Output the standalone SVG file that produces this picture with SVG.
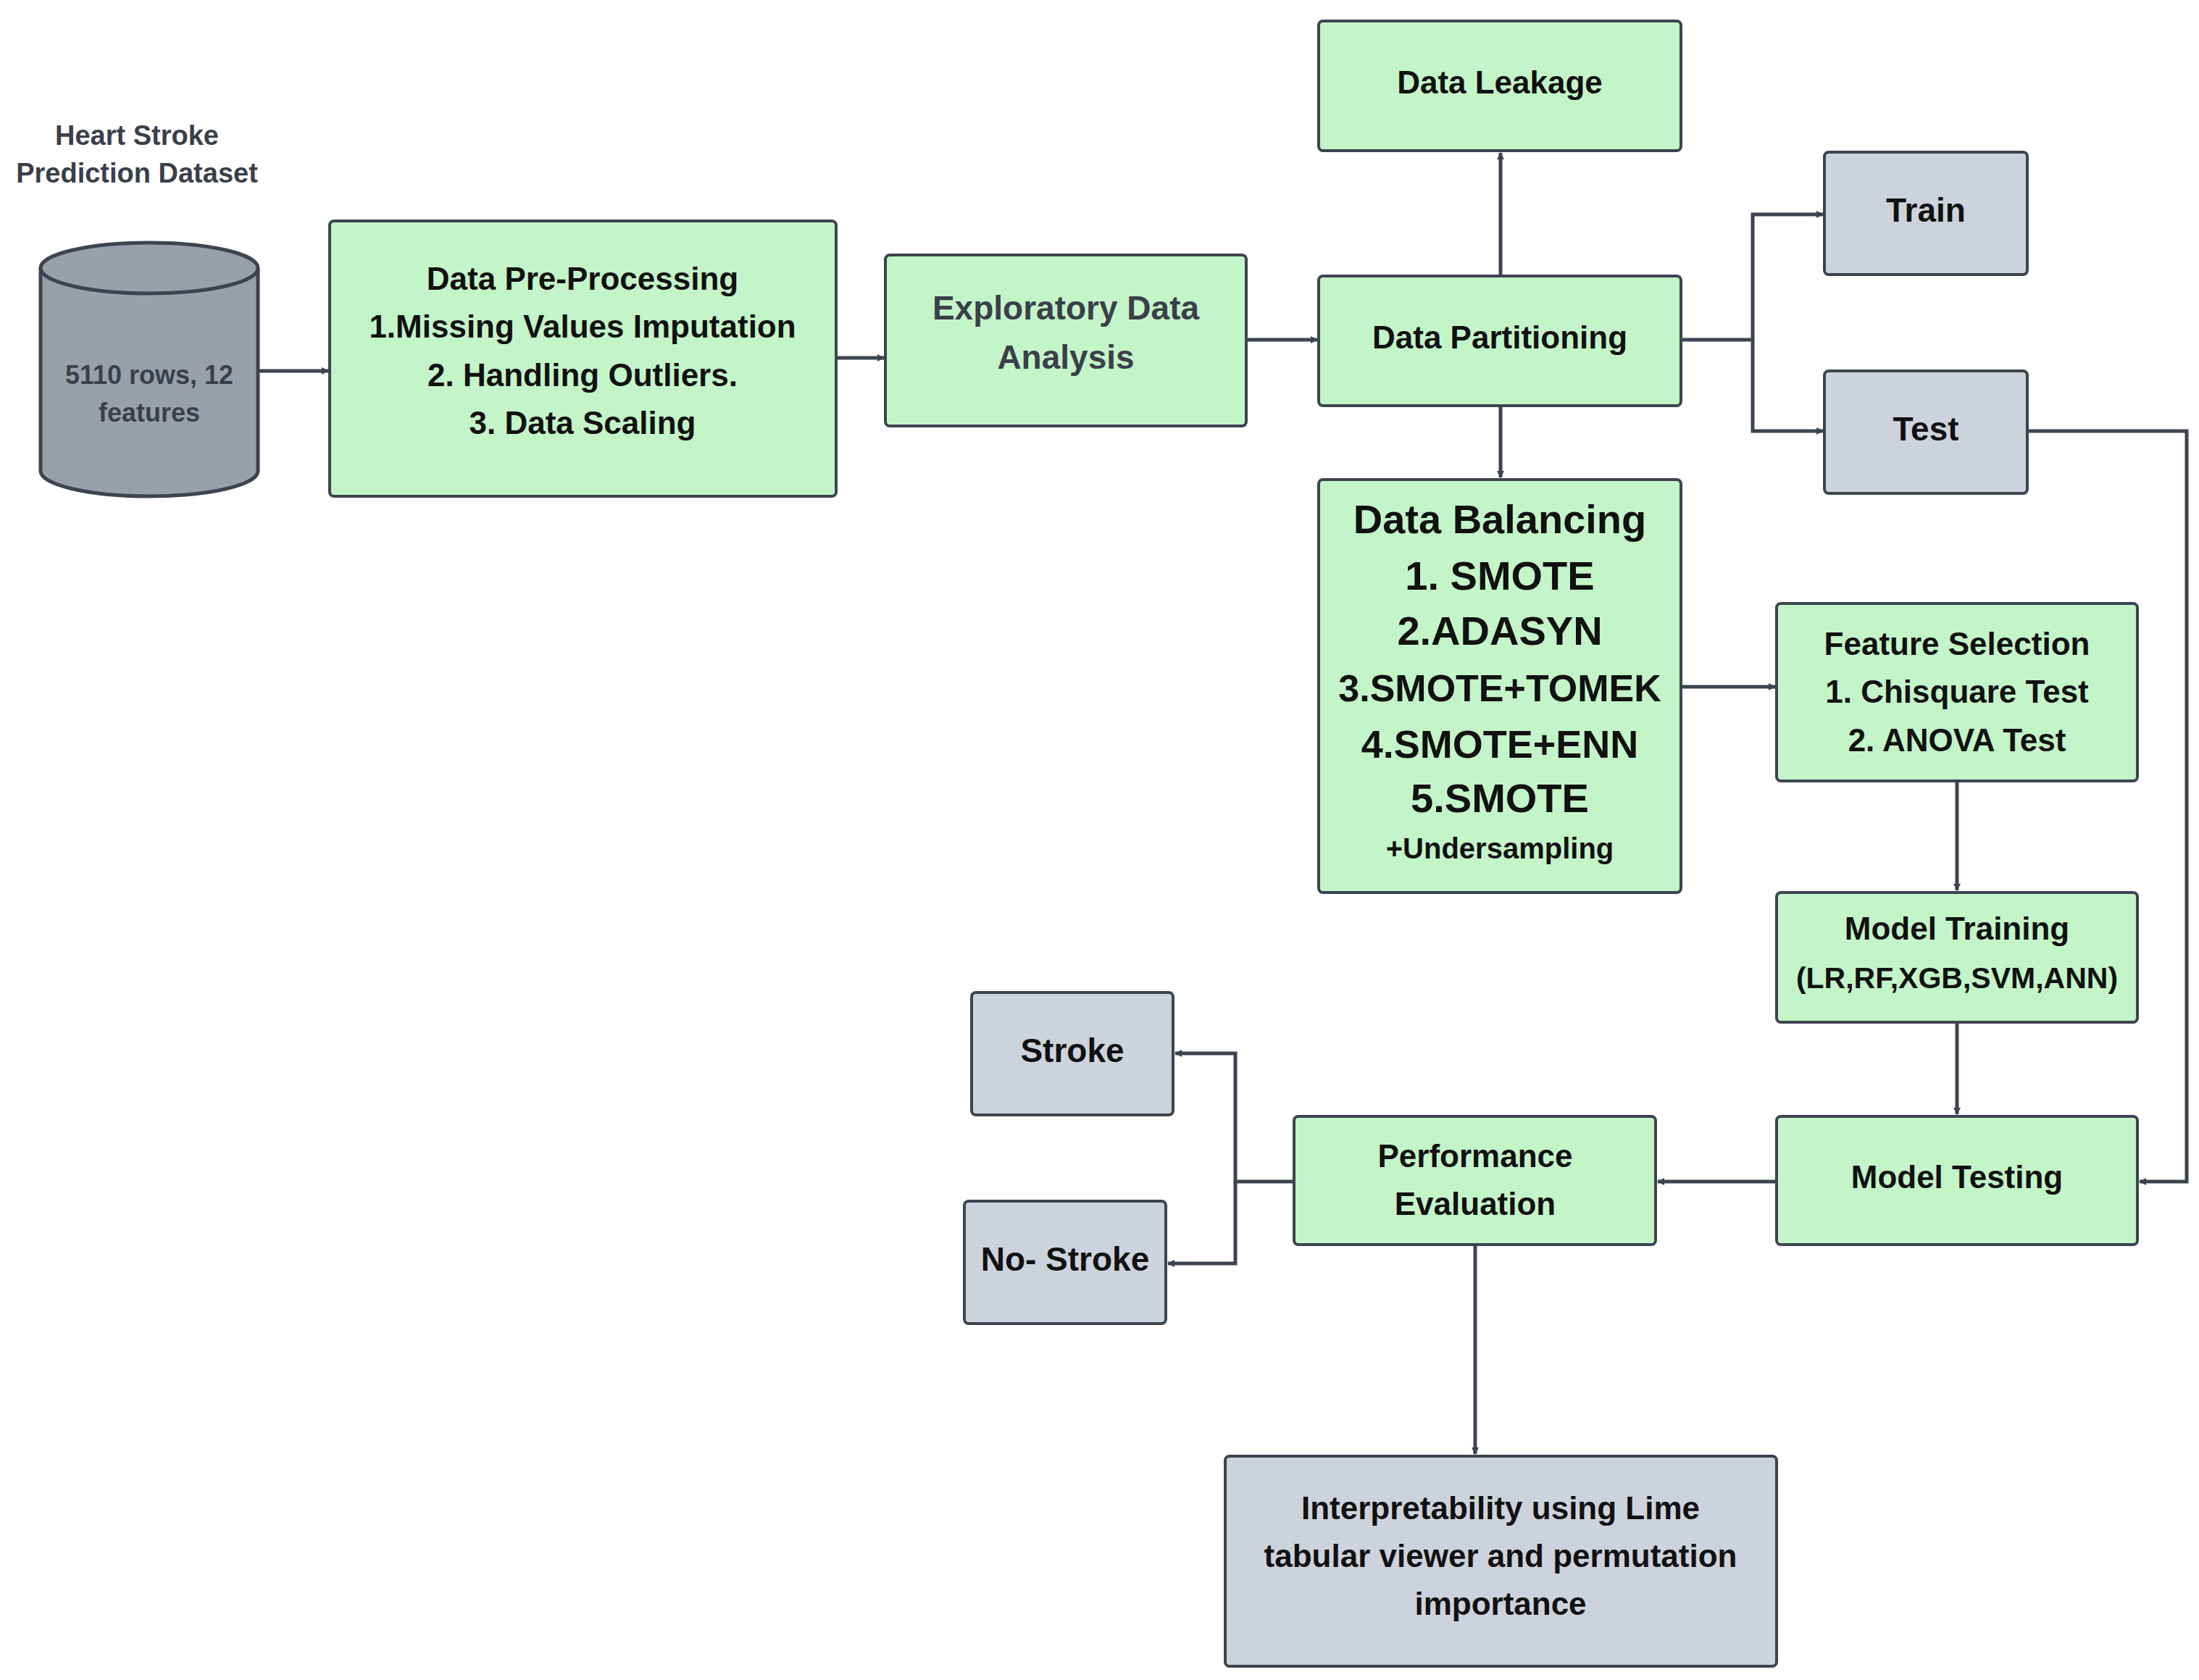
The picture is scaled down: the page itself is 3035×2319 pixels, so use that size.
<svg xmlns="http://www.w3.org/2000/svg" width="3035" height="2319" viewBox="0 0 3035 2319">
<defs>
<marker id="ah" markerWidth="10" markerHeight="10" refX="9" refY="5" orient="auto" markerUnits="userSpaceOnUse" viewBox="0 0 10 10"><path d="M0,0 L10,5 L0,10 z" fill="#3d4450"/></marker>
<style>
.g{fill:#c3f5c8;stroke:#3d4450;stroke-width:4}
.s{fill:#cdd3dc;stroke:#3d4450;stroke-width:4}
text{font-family:"Liberation Sans",Arial,sans-serif;font-weight:bold;text-anchor:middle;fill:#111}
.c path,.c line{fill:none;stroke:#3d4450;stroke-width:5;marker-end:url(#ah)}
</style>
</defs>
<rect width="3035" height="2319" fill="#fff"/>
<g id="title"><text x="189" y="200" font-size="38" fill="#3a3f4a" style="fill:#3a3f4a">Heart Stroke</text><text x="189" y="252" font-size="38" style="fill:#3a3f4a">Prediction Dataset</text></g>
<g id="dataset">
<path d="M56,370 L56,650 A150,35 0 0 0 356,650 L356,370" fill="#9aa0aa" stroke="#3d4450" stroke-width="5"/>
<ellipse cx="206" cy="370" rx="150" ry="35" fill="#9aa0aa" stroke="#3d4450" stroke-width="5"/>
<text x="206" y="530" font-size="36" style="fill:#3a3f4a">5110 rows,  12</text>
<text x="206" y="582" font-size="36" style="fill:#3a3f4a">features</text>
</g>
<g id="preprocessing"><rect class="g" x="455" y="305" width="699" height="380" rx="6"/>
<text x="804" y="400" font-size="44">Data Pre-Processing</text>
<text x="804" y="466" font-size="44">1.Missing Values Imputation</text>
<text x="804" y="533" font-size="44">2. Handling Outliers.</text>
<text x="804" y="599" font-size="44">3. Data Scaling</text></g>
<g id="eda"><rect class="g" x="1222" y="352" width="498" height="236" rx="6"/>
<text x="1471" y="441" font-size="46" style="fill:#3a3f4a">Exploratory Data</text>
<text x="1471" y="509" font-size="46" style="fill:#3a3f4a">Analysis</text></g>
<g id="partition"><rect class="g" x="1820" y="381" width="500" height="179" rx="6"/><text x="2070" y="481" font-size="44">Data Partitioning</text></g>
<g id="leakage"><rect class="g" x="1820" y="29" width="500" height="179" rx="6"/><text x="2070" y="129" font-size="44">Data Leakage</text></g>
<g id="train"><rect class="s" x="2518" y="210" width="280" height="169" rx="6"/><text x="2658" y="306" font-size="46">Train</text></g>
<g id="test"><rect class="s" x="2518" y="512" width="280" height="169" rx="6"/><text x="2658" y="608" font-size="46">Test</text></g>
<g id="balancing"><rect class="g" x="1820" y="662" width="500" height="570" rx="6"/>
<text x="2070" y="736" font-size="56">Data Balancing</text>
<text x="2070" y="814" font-size="56">1. SMOTE</text>
<text x="2070" y="890" font-size="56">2.ADASYN</text>
<text x="2070" y="968" font-size="52">3.SMOTE+TOMEK</text>
<text x="2070" y="1046" font-size="54">4.SMOTE+ENN</text>
<text x="2070" y="1121" font-size="56">5.SMOTE</text>
<text x="2070" y="1185" font-size="40">+Undersampling</text></g>
<g id="features"><rect class="g" x="2452" y="833" width="498" height="245" rx="6"/>
<text x="2701" y="904" font-size="44">Feature Selection</text>
<text x="2701" y="970" font-size="44">1. Chisquare Test</text>
<text x="2701" y="1037" font-size="44">2. ANOVA Test</text></g>
<g id="training"><rect class="g" x="2452" y="1232" width="498" height="179" rx="6"/>
<text x="2701" y="1297" font-size="44">Model  Training</text>
<text x="2701" y="1364" font-size="41">(LR,RF,XGB,SVM,ANN)</text></g>
<g id="testing"><rect class="g" x="2452" y="1541" width="498" height="177" rx="6"/><text x="2701" y="1640" font-size="44">Model Testing</text></g>
<g id="performance"><rect class="g" x="1786" y="1541" width="499" height="177" rx="6"/>
<text x="2036" y="1611" font-size="44">Performance</text><text x="2036" y="1677" font-size="44">Evaluation</text></g>
<g id="stroke"><rect class="s" x="1341" y="1370" width="278" height="169" rx="6"/><text x="1480" y="1466" font-size="46">Stroke</text></g>
<g id="nostroke"><rect class="s" x="1331" y="1658" width="278" height="169" rx="6"/><text x="1470" y="1754" font-size="46">No- Stroke</text></g>
<g id="interpret"><rect class="s" x="1691" y="2010" width="761" height="290" rx="6"/>
<text x="2071" y="2097" font-size="44">Interpretability using Lime</text>
<text x="2071" y="2163" font-size="44">tabular viewer and permutation</text>
<text x="2071" y="2229" font-size="44">importance</text></g>
<g id="connectors" class="c">
<path d="M356,512 L453,512"/>
<path d="M1154,494 L1220,494"/>
<path d="M1720,469 L1818,469"/>
<path d="M2071,381 L2071,211"/>
<path d="M2320,469 L2419,469 L2419,296 L2516,296"/>
<path d="M2419,469 L2419,595 L2516,595"/>
<path d="M2071,560 L2071,659"/>
<path d="M2320,948 L2450,948"/>
<path d="M2701,1078 L2701,1229"/>
<path d="M2701,1411 L2701,1538"/>
<path d="M2798,595 L3018,595 L3018,1631 L2953,1631"/>
<path d="M2452,1631 L2288,1631"/>
<path d="M1786,1631 L1705,1631 L1705,1454 L1622,1454"/>
<path d="M1705,1631 L1705,1744 L1612,1744"/>
<path d="M2036,1718 L2036,2007"/>
</g>
</svg>
